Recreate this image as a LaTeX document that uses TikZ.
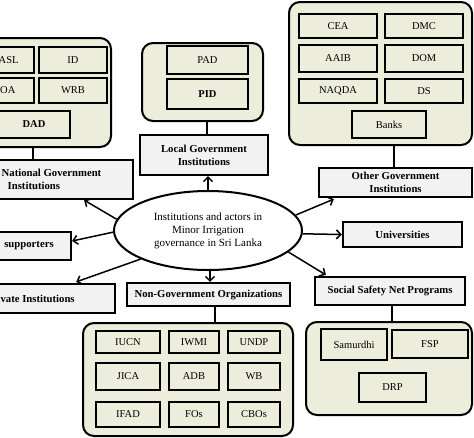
\documentclass[tikz,border=0pt]{standalone}
\usepackage{fontspec}
\setmainfont{Liberation Serif}
\usetikzlibrary{arrows.meta,shapes.geometric}
\definecolor{contfill}{HTML}{ECEEDB}
\definecolor{catfill}{HTML}{F2F2F2}
\tikzset{
  cont/.style={draw=black,line width=2pt,fill=contfill,rounded corners=11pt,inner sep=0pt},
  inbox/.style={draw=black,line width=2.4pt,fill=contfill,inner sep=0pt,
    font=\fontsize{10.5}{12}\selectfont},
  catbox/.style={draw=black,line width=2.2pt,fill=catfill,inner sep=0pt,align=center,
    font=\fontsize{10.7}{13}\selectfont\bfseries},
  link/.style={line width=1.5pt},
  arr/.style={line width=1.5pt,-{Straight Barb[length=4.5pt,width=9pt]}},
}
\newcommand{\bx}[6]{\node[#1,minimum width=#4pt,minimum height=#5pt] (#2) at (#3) {#6};}
\begin{document}
\begin{tikzpicture}[x=1pt,y=-1pt]
\clip (0,0) rectangle (474,437);
\fill[white] (0,0) rectangle (474,437);
% National government
\bx{cont}{natc}{42.5,92.5}{137}{109}{}
\bx{inbox}{masl}{4,60}{60}{26}{MASL}
\bx{inbox}{id}{73,60}{68}{26}{ID}
\bx{inbox}{doa}{4,90.5}{60}{25}{DOA}
\bx{inbox}{wrb}{73,90.5}{68}{25}{WRB}
\bx{inbox}{dad}{34,124.5}{72}{27}{\bfseries DAD}
\bx{catbox}{nat}{51.5,179.5}{163}{39}{}
\node[font=\fontsize{10.7}{13}\selectfont\bfseries,align=left,inner sep=0pt] (natt) at (nat.center) {National Government\\\hspace*{6pt}Institutions};
\draw[link] (natc.south -| 33,0) -- (nat.north -| 33,0);
% Local government
\bx{cont}{locc}{202.5,82}{121}{78}{}
\bx{inbox}{pad}{207.5,60}{81}{28}{PAD}
\bx{inbox}{pid}{207.5,94}{81}{30}{\bfseries PID}
\bx{catbox}{loc}{204,155}{128}{40}{Local Government\\Institutions}
\draw[link] (locc.south -| 207,0) -- (loc.north -| 207,0);
% Other government
\bx{cont}{othc}{380.5,73.5}{183}{143}{}
\bx{inbox}{cea}{338,26}{78}{24}{CEA}
\bx{inbox}{dmc}{424,26}{78}{24}{DMC}
\bx{inbox}{aaib}{338,58.5}{78}{27}{AAIB}
\bx{inbox}{dom}{424,58.5}{78}{27}{DOM}
\bx{inbox}{naqda}{338,91}{78}{24}{NAQDA}
\bx{inbox}{ds}{424,91}{78}{24}{DS}
\bx{inbox}{banks}{389,124.5}{74}{27}{Banks}
\bx{catbox}{oth}{395.5,182.5}{153}{29}{Other Government\\Institutions}
\draw[link] (othc.south -| 394,0) -- (oth.north -| 394,0);
% Centre ellipse
\node[ellipse,draw=black,line width=2pt,fill=white,minimum width=188pt,minimum height=79pt,inner sep=0pt,
  align=center,font=\fontsize{11}{13}\selectfont] (ell) at (208,230.5)
  {Institutions and actors in\\Minor Irrigation\\governance in Sri Lanka};
% Side boxes
\bx{catbox}{sup}{29,246}{84}{28}{supporters}
\bx{catbox}{priv}{30.5,298.5}{169}{29}{Private Institutions}
\bx{catbox}{uni}{402.5,234.5}{119}{25}{Universities}
\bx{catbox}{ngo}{208.5,294.5}{163}{23}{Non-Government Organizations}
\bx{catbox}{soc}{390,291}{150}{28}{Social Safety Net Programs}
% NGO container
\bx{cont}{ngoc}{188,379.5}{210}{113}{}
\bx{inbox}{iucn}{128,342}{64}{22}{IUCN}
\bx{inbox}{iwmi}{194,342}{50}{22}{IWMI}
\bx{inbox}{undp}{254,342}{52}{22}{UNDP}
\bx{inbox}{jica}{128,376.5}{64}{27}{JICA}
\bx{inbox}{adb}{194,376.5}{50}{27}{ADB}
\bx{inbox}{wb}{254,376.5}{52}{27}{WB}
\bx{inbox}{ifad}{128,414.5}{64}{25}{IFAD}
\bx{inbox}{fos}{194,414.5}{50}{25}{FOs}
\bx{inbox}{cbos}{254,414.5}{52}{25}{CBOs}
\draw[link] (ngo.south -| 215,0) -- (ngoc.north -| 215,0);
% Social safety container
\bx{cont}{socc}{389,368.5}{166}{93}{}
\bx{inbox}{sam}{354,344.5}{66}{31}{Samurdhi}
\bx{inbox}{fsp}{430,344}{76}{28}{FSP}
\bx{inbox}{drp}{392.5,387.5}{67}{29}{DRP}
\draw[link] (soc.south -| 392,0) -- (socc.north -| 392,0);
% Arrows from ellipse
\draw[arr] (ell.north) -- (ell.north |- loc.south);
\draw[arr] (ell.173) -- ([xshift=-50pt]nat.south east);
\draw[arr] (ell.181) -- ([yshift=5pt]sup.east);
\draw[arr] (ell.203) -- ([xshift=-40pt,yshift=1pt]priv.north east);
\draw[arr] ([xshift=2pt]ell.south) -- ([xshift=2pt]ell.south |- ngo.north);
\draw[arr] (ell.345) -- ([xshift=12pt,yshift=1pt]soc.north west);
\draw[arr] (ell.358) -- (uni.west);
\draw[arr] (ell.10) -- ([xshift=16pt,yshift=-1pt]oth.south west);
\end{tikzpicture}
\end{document}
